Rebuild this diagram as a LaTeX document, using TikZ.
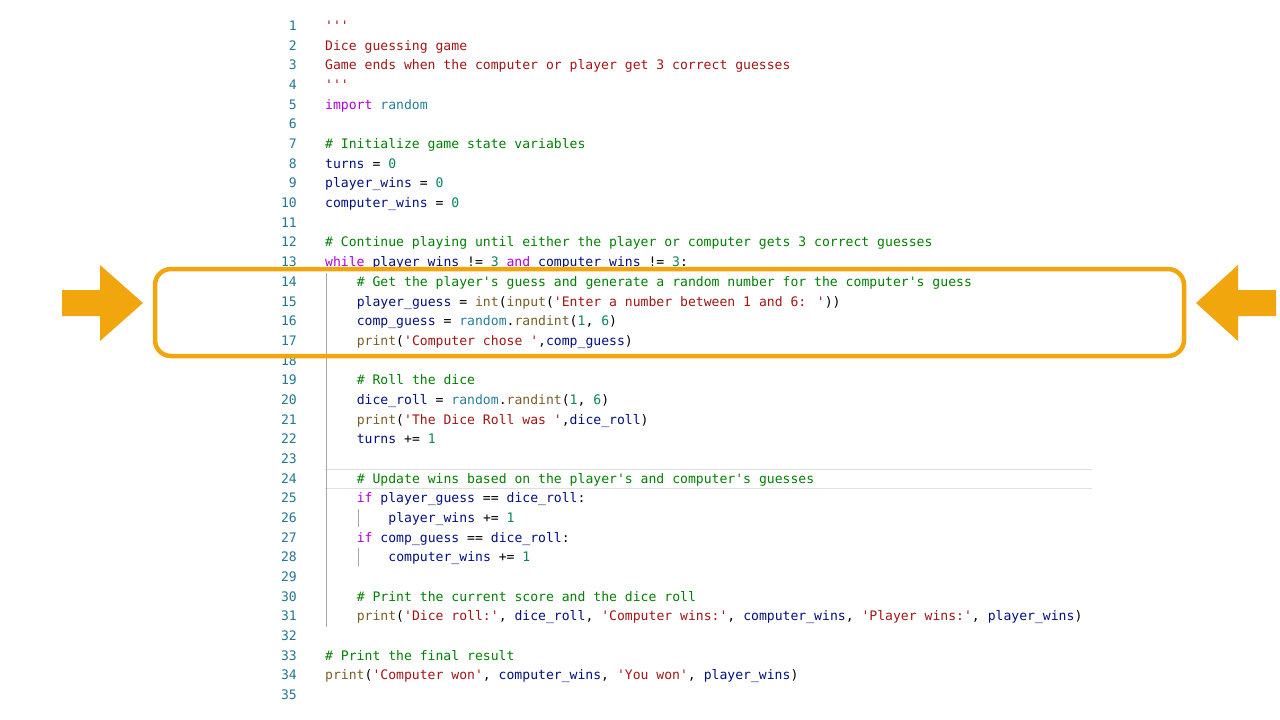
\documentclass[tikz,border=0pt]{standalone}
\usepackage{fontspec}
\newfontfamily\codefont{DejaVu Sans Mono}
\definecolor{ckw}{HTML}{AF00DB}
\definecolor{cst}{HTML}{A31515}
\definecolor{ccm}{HTML}{008000}
\definecolor{cnm}{HTML}{098658}
\definecolor{cva}{HTML}{001080}
\definecolor{cfn}{HTML}{795E26}
\definecolor{cmd}{HTML}{267F99}
\definecolor{cln}{HTML}{237893}
\definecolor{hl}{HTML}{F2A60D}
\newcommand\q{\char"27\relax}
\newcommand\kw[1]{\textcolor{ckw}{#1}}
\newcommand\st[1]{\textcolor{cst}{#1}}
\newcommand\cm[1]{\textcolor{ccm}{#1}}
\newcommand\nm[1]{\textcolor{cnm}{#1}}
\newcommand\va[1]{\textcolor{cva}{#1}}
\newcommand\fn[1]{\textcolor{cfn}{#1}}
\newcommand\md[1]{\textcolor{cmd}{#1}}
\newcommand\cl[3]{%
  \node[lnum] (n#1) at (297,{30.5+(#1-1)*19.68}) {#1};
  \node[ctext] (c#1) at ({325+#2*7.9},{30.5+(#1-1)*19.68}) {#3};}
\newcommand\el[1]{\node[lnum] (n#1) at (297,{30.5+(#1-1)*19.68}) {#1};}
\begin{document}
\begin{tikzpicture}[x=1pt,y=-1pt,
  lnum/.style={anchor=base east,inner sep=0,text=cln,font=\codefont\fontsize{13.1}{15}\selectfont},
  ctext/.style={anchor=base west,inner sep=0,font=\codefont\fontsize{13.1}{15}\selectfont},
  guide/.style={draw=black!35,line width=0.6pt},
  frame/.style={draw=hl,line width=4.5pt,rounded corners=16pt},
  bigarrow/.style={fill=hl}]
\useasboundingbox (0,0) rectangle (1280,720);
\fill[white] (0,0) rectangle (1280,720);
% line 24 highlight
\draw[black!12,line width=0.8pt] (325,469) -- (1092,469) (325,488) -- (1092,488);
\draw[guide] (326,273) -- (326,627);
\draw[guide] (358,509) -- (358,527) (358,548) -- (358,566);
\cl{1}{0}{\st{\q\q\q}}
\cl{2}{0}{\st{Dice guessing game}}
\cl{3}{0}{\st{Game ends when the computer or player get 3 correct guesses}}
\cl{4}{0}{\st{\q\q\q}}
\cl{5}{0}{\kw{import} \md{random}}
\el{6}
\cl{7}{0}{\cm{\# Initialize game state variables}}
\cl{8}{0}{\va{turns} = \nm{0}}
\cl{9}{0}{\va{player\_wins} = \nm{0}}
\cl{10}{0}{\va{computer\_wins} = \nm{0}}
\el{11}
\cl{12}{0}{\cm{\# Continue playing until either the player or computer gets 3 correct guesses}}
\cl{13}{0}{\kw{while} \va{player\_wins} != \nm{3} \kw{and} \va{computer\_wins} != \nm{3}:}
\cl{14}{4}{\cm{\# Get the player\q s guess and generate a random number for the computer\q s guess}}
\cl{15}{4}{\va{player\_guess} = \fn{int}(\fn{input}(\st{\q Enter a number between 1 and 6: \q}))}
\cl{16}{4}{\va{comp\_guess} = \md{random}.\fn{randint}(\nm{1}, \nm{6})}
\cl{17}{4}{\fn{print}(\st{\q Computer chose \q},\va{comp\_guess})}
\el{18}
\cl{19}{4}{\cm{\# Roll the dice}}
\cl{20}{4}{\va{dice\_roll} = \md{random}.\fn{randint}(\nm{1}, \nm{6})}
\cl{21}{4}{\fn{print}(\st{\q The Dice Roll was \q},\va{dice\_roll})}
\cl{22}{4}{\va{turns} += \nm{1}}
\el{23}
\cl{24}{4}{\cm{\# Update wins based on the player\q s and computer\q s guesses}}
\cl{25}{4}{\kw{if} \va{player\_guess} == \va{dice\_roll}:}
\cl{26}{8}{\va{player\_wins} += \nm{1}}
\cl{27}{4}{\kw{if} \va{comp\_guess} == \va{dice\_roll}:}
\cl{28}{8}{\va{computer\_wins} += \nm{1}}
\el{29}
\cl{30}{4}{\cm{\# Print the current score and the dice roll}}
\cl{31}{4}{\fn{print}(\st{\q Dice roll:\q}, \va{dice\_roll}, \st{\q Computer wins:\q}, \va{computer\_wins}, \st{\q Player wins:\q}, \va{player\_wins})}
\el{32}
\cl{33}{0}{\cm{\# Print the final result}}
\cl{34}{0}{\fn{print}(\st{\q Computer won\q}, \va{computer\_wins}, \st{\q You won\q}, \va{player\_wins})}
\el{35}
% highlight frame and arrows
\draw[frame] (155,269) rectangle (1184,356);
\fill[bigarrow] (62,290) -- (100,290) -- (100,265) -- (143,303) -- (100,341) -- (100,316) -- (62,316) -- cycle;
\fill[bigarrow] (1276,290) -- (1238,290) -- (1238,265) -- (1196,303) -- (1238,341) -- (1238,316) -- (1276,316) -- cycle;
\end{tikzpicture}
\end{document}
